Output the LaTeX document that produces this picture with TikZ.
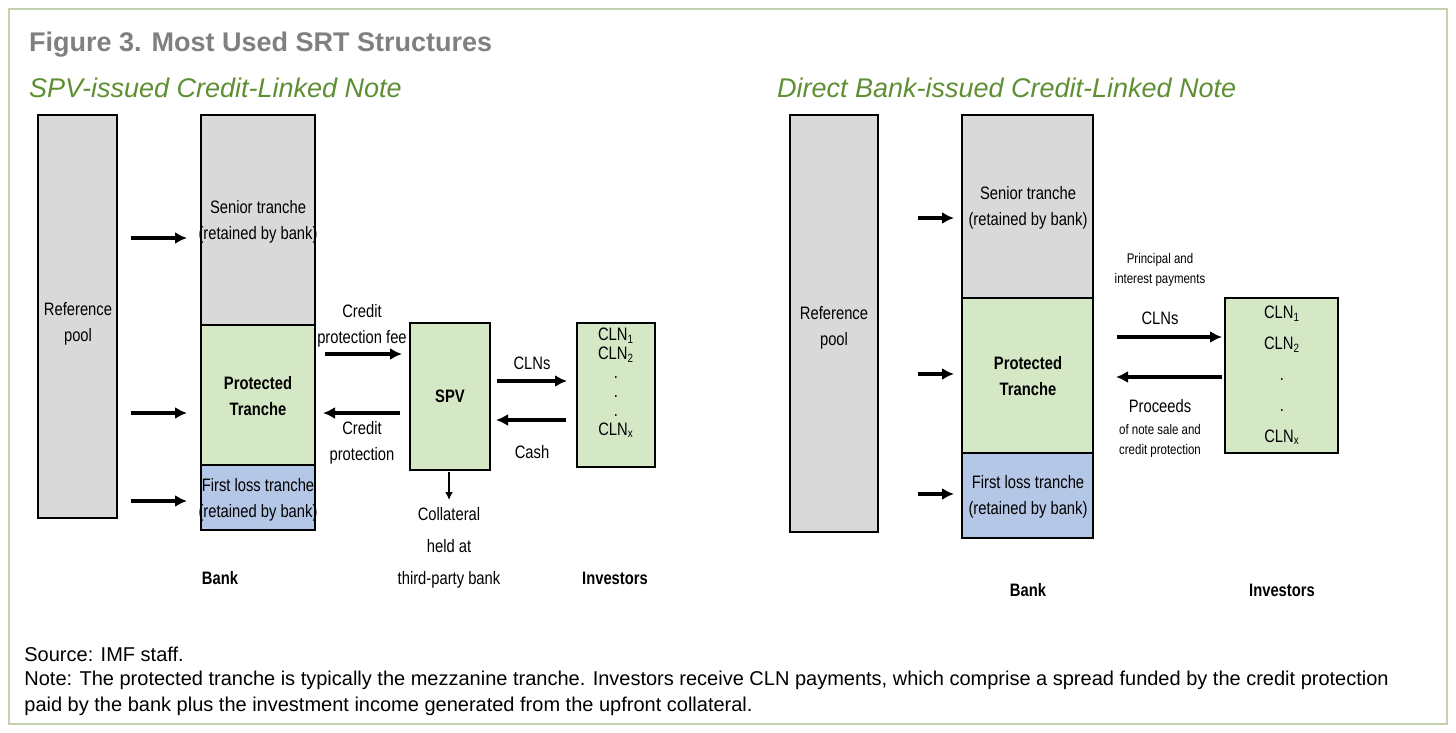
\documentclass[tikz,border=0pt]{standalone}
\usepackage{fontspec}
\usetikzlibrary{arrows.meta}
\setmainfont{Liberation Sans}
\newfontfamily\narrow[FakeStretch=0.82]{Liberation Sans}
\definecolor{boxgray}{HTML}{D9D9D9}
\definecolor{boxgreen}{HTML}{D5E8C6}
\definecolor{boxblue}{HTML}{B4C7E7}
\definecolor{subgreen}{HTML}{5E8F32}
\definecolor{titlegray}{HTML}{808080}
\definecolor{framec}{HTML}{C3D1AE}
\newcommand{\sbx}[1]{\textsubscript{#1}}
\begin{document}
\begin{tikzpicture}[x=0.5pt,y=-0.5pt,
  bx/.style={draw=black,line width=0.6pt},
  lbl/.style={font=\narrow\fontsize{9}{13}\selectfont,align=center,inner sep=0pt},
  sm/.style={font=\narrow\fontsize{7}{10}\selectfont,align=center,inner sep=0pt},
  bl/.style={font=\narrow\bfseries\fontsize{9}{13}\selectfont,align=center,inner sep=0pt},
  ar/.style={-{Latex[length=6pt,width=6pt]},line width=1.6pt}]
\useasboundingbox (0,0) rectangle (1456,733);
\draw[framec,line width=0.8pt] (9,9) rectangle (1447,724);
\node[anchor=west,text=titlegray,font=\bfseries\fontsize{13.5}{15}\selectfont] (title) at (22,45) {Figure 3. Most Used SRT Structures};
\node[anchor=west,text=subgreen,font=\itshape\fontsize{13.5}{15}\selectfont] (st1) at (22,88) {SPV-issued Credit-Linked Note};
\node[anchor=west,text=subgreen,font=\itshape\fontsize{13.5}{15}\selectfont] (st2) at (770,88) {Direct Bank-issued Credit-Linked Note};
% left
\draw[bx,fill=boxgray] (38,115) rectangle (117,518);
\node[lbl] (rp1) at (78,324) {Reference\\pool};
\draw[bx,fill=boxgray] (201,115) rectangle (315,325);
\draw[bx,fill=boxgreen] (201,325) rectangle (315,465);
\draw[bx,fill=boxblue] (201,465) rectangle (315,530);
\node[lbl] (sen1) at (258,222) {Senior tranche\\(retained by bank)};
\node[bl] (pro1) at (258,396) {Protected\\Tranche};
\node[lbl] (fl1) at (258,500) {First loss tranche\\(retained by bank)};
\coordinate (a1s) at (131,238); \coordinate (a1e) at (187,238);
\coordinate (a2s) at (131,413); \coordinate (a2e) at (187,413);
\coordinate (a3s) at (131,501); \coordinate (a3e) at (187,501);
\draw[ar] (a1s)--(a1e); \draw[ar] (a2s)--(a2e); \draw[ar] (a3s)--(a3e);
\draw[bx,fill=boxgreen] (410,323) rectangle (490,470);
\node[bl] (spv) at (450,396) {SPV};
\draw[bx,fill=boxgreen] (577,323) rectangle (655,467);
\node[lbl,anchor=north,font=\narrow\fontsize{9}{9.5}\selectfont] (inv1) at (616,328) {CLN\sbx{1}\\CLN\sbx{2}\\.\\.\\.\\CLN\sbx{x}};
\coordinate (b1s) at (325,354); \coordinate (b1e) at (402,354);
\coordinate (b2s) at (400,413); \coordinate (b2e) at (323,413);
\draw[ar] (b1s)--(b1e); \draw[ar] (b2s)--(b2e);
\node[lbl] (cpf) at (362,348) [anchor=south] {Credit\\protection fee};
\node[lbl] (cp) at (362,421) [anchor=north] {Credit\\protection};
\coordinate (c1s) at (497,381); \coordinate (c1e) at (567,381);
\coordinate (c2s) at (566,420); \coordinate (c2e) at (496,420);
\draw[ar] (c1s)--(c1e); \draw[ar] (c2s)--(c2e);
\node[lbl] (clns1) at (532,363) {CLNs};
\node[lbl] (cash) at (532,452) {Cash};
\coordinate (d1) at (449,500);
\draw[-{Latex[length=4pt,width=4pt]},line width=0.8pt] (449,472)--(d1);
\node[lbl,anchor=north,font=\narrow\fontsize{9}{16}\selectfont] (coll) at (449,507) {Collateral\\held at\\third-party bank};
\node[bl] (bank1) at (220,578) {Bank};
\node[bl] (invl1) at (615,578) {Investors};
% right
\draw[bx,fill=boxgray] (790,115) rectangle (878,532);
\node[lbl] (rp2) at (834,328) {Reference\\pool};
\draw[bx,fill=boxgray] (962,115) rectangle (1093,298);
\draw[bx,fill=boxgreen] (962,298) rectangle (1093,453);
\draw[bx,fill=boxblue] (962,453) rectangle (1093,538);
\node[lbl] (sen2) at (1028,208) {Senior tranche\\(retained by bank)};
\node[bl] (pro2) at (1028,376) {Protected\\Tranche};
\node[lbl] (fl2) at (1028,497) {First loss tranche\\(retained by bank)};
\coordinate (e1s) at (918,218); \coordinate (e1e) at (954,218);
\coordinate (e2s) at (918,374); \coordinate (e2e) at (954,374);
\coordinate (e3s) at (918,494); \coordinate (e3e) at (954,494);
\draw[ar] (e1s)--(e1e); \draw[ar] (e2s)--(e2e); \draw[ar] (e3s)--(e3e);
\draw[bx,fill=boxgreen] (1225,298) rectangle (1338,453);
\node[lbl,anchor=north,font=\narrow\fontsize{9}{15.5}\selectfont] (inv2) at (1282,306) {CLN\sbx{1}\\CLN\sbx{2}\\.\\.\\CLN\sbx{x}};
\coordinate (f1s) at (1117,337); \coordinate (f1e) at (1222,337);
\coordinate (f2s) at (1222,377); \coordinate (f2e) at (1116,377);
\draw[ar] (f1s)--(f1e); \draw[ar] (f2s)--(f2e);
\node[sm] (pip) at (1160,270) {Principal and\\interest payments};
\node[lbl] (clns2) at (1160,318) {CLNs};
\node[lbl] (proc) at (1160,406) {Proceeds};
\node[sm] (ons) at (1160,441) {of note sale and\\credit protection};
\node[bl] (bank2) at (1028,590) {Bank};
\node[bl] (invl2) at (1282,590) {Investors};
% notes
\node[anchor=west,font=\fontsize{10}{12}\selectfont,inner sep=0pt] (src) at (24,654) {Source: IMF staff.};
\node[anchor=north west,font=\fontsize{10}{13}\selectfont,inner sep=0pt,align=left] (note) at (24,671) {Note: The protected tranche is typically the mezzanine tranche. Investors receive CLN payments, which comprise a spread funded by the credit protection\\paid by the bank plus the investment income generated from the upfront collateral.};
\end{tikzpicture}
\end{document}
